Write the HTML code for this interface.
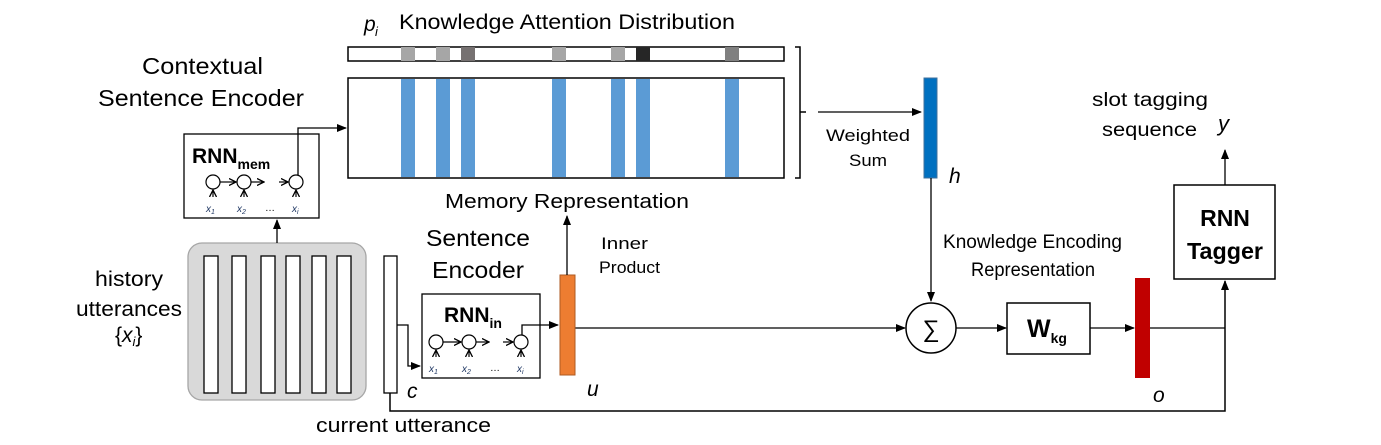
<!DOCTYPE html>
<html><head><meta charset="utf-8"><style>
html,body{margin:0;padding:0;background:#fff;}
svg{display:block;font-family:"Liberation Sans",sans-serif;}
</style></head><body>
<svg width="1381" height="445" viewBox="0 0 1381 445" xmlns="http://www.w3.org/2000/svg">
<defs>
<marker id="a" markerWidth="10" markerHeight="10" refX="9" refY="5" orient="auto" markerUnits="userSpaceOnUse"><path d="M0,1 L10,5 L0,9 z" fill="#000"/></marker>
<marker id="s" markerWidth="8" markerHeight="8" refX="7" refY="4" orient="auto" markerUnits="userSpaceOnUse"><path d="M0,0.5 L7,4 L0,7.5" fill="none" stroke="#000" stroke-width="1.3"/></marker>
</defs>
<g fill="#000">
<text x="364" y="31" font-size="21" font-style="italic">p</text><text x="375" y="36" font-size="13" font-style="italic">i</text>
<text x="399" y="29" font-size="21" textLength="336" lengthAdjust="spacingAndGlyphs">Knowledge Attention Distribution</text>
<text x="142" y="74" font-size="23" textLength="121" lengthAdjust="spacingAndGlyphs">Contextual</text>
<text x="98" y="106" font-size="23" textLength="206" lengthAdjust="spacingAndGlyphs">Sentence Encoder</text>
<text x="359" y="136" font-size="22" font-style="italic">m</text><text x="377" y="141" font-size="13" font-style="italic">i</text>
<text x="445" y="208" font-size="20" textLength="244" lengthAdjust="spacingAndGlyphs">Memory Representation</text>
<text x="426" y="246" font-size="23" textLength="104" lengthAdjust="spacingAndGlyphs">Sentence</text>
<text x="432" y="278" font-size="23" textLength="92" lengthAdjust="spacingAndGlyphs">Encoder</text>
<text x="601" y="249" font-size="17" textLength="47" lengthAdjust="spacingAndGlyphs">Inner</text>
<text x="599" y="273" font-size="17" textLength="61" lengthAdjust="spacingAndGlyphs">Product</text>
<text x="826" y="141" font-size="17" textLength="84" lengthAdjust="spacingAndGlyphs">Weighted</text>
<text x="849" y="166" font-size="17" textLength="38" lengthAdjust="spacingAndGlyphs">Sum</text>
<text x="949" y="183" font-size="21" font-style="italic">h</text>
<text x="1092" y="106" font-size="19" textLength="116" lengthAdjust="spacingAndGlyphs">slot tagging</text>
<text x="1102" y="136" font-size="19" textLength="95" lengthAdjust="spacingAndGlyphs">sequence</text>
<text x="1218" y="131" font-size="22" font-style="italic">y</text>
<text x="943" y="248" font-size="19" textLength="179" lengthAdjust="spacingAndGlyphs">Knowledge Encoding</text>
<text x="971" y="276" font-size="19" textLength="124" lengthAdjust="spacingAndGlyphs">Representation</text>
<text x="1153" y="402" font-size="21" font-style="italic">o</text>
<text x="587" y="396" font-size="21" font-style="italic">u</text>
<text x="407" y="398" font-size="21" font-style="italic">c</text>
<text x="316" y="432" font-size="20" textLength="175" lengthAdjust="spacingAndGlyphs">current utterance</text>
<text x="95" y="286" font-size="21" textLength="68" lengthAdjust="spacingAndGlyphs">history</text>
<text x="76" y="316" font-size="21" textLength="106" lengthAdjust="spacingAndGlyphs">utterances</text>
<text x="115" y="342" font-size="21">{<tspan font-style="italic">x</tspan><tspan font-size="13" dy="4" font-style="italic">i</tspan><tspan dy="-4">}</tspan></text>
</g>
<rect x="348" y="47" width="436" height="14" fill="#fff" stroke="#000" stroke-width="1.5"/>
<rect x="401" y="47" width="14" height="14" fill="#a6a6a6"/>
<rect x="436" y="47" width="14" height="14" fill="#a6a6a6"/>
<rect x="461" y="47" width="14" height="14" fill="#767171"/>
<rect x="552" y="47" width="14" height="14" fill="#a6a6a6"/>
<rect x="611" y="47" width="14" height="14" fill="#a6a6a6"/>
<rect x="636" y="47" width="14" height="14" fill="#262626"/>
<rect x="725" y="47" width="14" height="14" fill="#808080"/>
<rect x="348" y="78" width="436" height="100" fill="#fff" stroke="#000" stroke-width="1.5"/>
<g fill="#5b9bd5">
<rect x="401" y="79" width="14" height="98"/><rect x="436" y="79" width="14" height="98"/><rect x="461" y="79" width="14" height="98"/>
<rect x="552" y="79" width="14" height="98"/><rect x="611" y="79" width="14" height="98"/><rect x="636" y="79" width="14" height="98"/><rect x="725" y="79" width="14" height="98"/>
</g>
<path d="M795,47 H800 V178 H795 M800,112 H806" fill="none" stroke="#000" stroke-width="1.5"/>
<line x1="818" y1="112" x2="921" y2="112" stroke="#000" stroke-width="1.3" marker-end="url(#a)"/>
<rect x="924" y="78" width="13" height="100" fill="#0070c0" stroke="#41719c"/>
<line x1="931" y1="178" x2="931" y2="301" stroke="#000" stroke-width="1.3" marker-end="url(#a)"/>
<circle cx="931" cy="328" r="25" fill="#fff" stroke="#000" stroke-width="1.5"/>
<text x="931" y="337" font-size="24" text-anchor="middle">∑</text>
<line x1="575" y1="328" x2="905" y2="328" stroke="#000" stroke-width="1.3" marker-end="url(#a)"/>
<line x1="956" y1="328" x2="1006" y2="328" stroke="#000" stroke-width="1.3" marker-end="url(#a)"/>
<rect x="1007" y="303" width="83" height="51" fill="#fff" stroke="#000" stroke-width="1.5"/>
<text x="1027" y="337" font-size="25" font-weight="bold">W<tspan font-size="14" dy="6">kg</tspan></text>
<line x1="1090" y1="328" x2="1134" y2="328" stroke="#000" stroke-width="1.3" marker-end="url(#a)"/>
<rect x="1135" y="278" width="15" height="100" fill="#c00000"/>
<path d="M1150,328 H1225" fill="none" stroke="#000" stroke-width="1.3"/>
<rect x="1174" y="185" width="101" height="94" fill="#fff" stroke="#000" stroke-width="1.5"/>
<text x="1225" y="226" font-size="23" font-weight="bold" text-anchor="middle">RNN</text>
<text x="1225" y="259" font-size="23" font-weight="bold" text-anchor="middle" textLength="76" lengthAdjust="spacingAndGlyphs">Tagger</text>
<line x1="1225" y1="185" x2="1225" y2="150" stroke="#000" stroke-width="1.3" marker-end="url(#a)"/>
<path d="M390,393 V411 H1225 V281" fill="none" stroke="#000" stroke-width="1.5" marker-end="url(#a)"/>
<rect x="188" y="243" width="178" height="157" rx="14" fill="#d9d9d9" stroke="#a6a6a6" stroke-width="1.3"/>
<g fill="#fff" stroke="#000" stroke-width="1.3">
<rect x="204" y="256" width="14" height="137"/><rect x="232" y="256" width="14" height="137"/><rect x="261" y="256" width="14" height="137"/>
<rect x="286" y="256" width="14" height="137"/><rect x="312" y="256" width="14" height="137"/><rect x="337" y="256" width="14" height="137"/>
<rect x="384" y="256" width="13" height="137"/>
</g>
<line x1="277" y1="243" x2="277" y2="220" stroke="#000" stroke-width="1.3" marker-end="url(#a)"/>
<rect x="184" y="134" width="135" height="84" fill="#fff" stroke="#000" stroke-width="1.3"/>
<text x="192" y="163" font-size="21" font-weight="bold">RNN<tspan font-size="14" dy="6">mem</tspan></text>
<g fill="#fff" stroke="#000" stroke-width="1.2">
<circle cx="213" cy="182" r="7"/><circle cx="244" cy="182" r="7"/><circle cx="296" cy="182" r="7"/>
</g>
<g stroke="#000" stroke-width="1.2" fill="none">
<line x1="220" y1="182" x2="236" y2="182" marker-end="url(#s)"/>
<line x1="251" y1="182" x2="264" y2="182" marker-end="url(#s)"/>
<line x1="279" y1="182" x2="288" y2="182" marker-end="url(#s)"/>
<line x1="213" y1="197" x2="213" y2="190" marker-end="url(#s)"/>
<line x1="244" y1="197" x2="244" y2="190" marker-end="url(#s)"/>
<line x1="296" y1="197" x2="296" y2="190" marker-end="url(#s)"/>
</g>
<g font-size="10" font-style="italic" fill="#203864">
<text x="206" y="212">x<tspan font-size="7" dy="2">1</tspan></text>
<text x="237" y="212">x<tspan font-size="7" dy="2">2</tspan></text>
<text x="265" y="211" font-style="normal" fill="#000">…</text>
<text x="292" y="212">x<tspan font-size="7" dy="2">i</tspan></text>
</g>
<path d="M298,175 V128 H346" fill="none" stroke="#000" stroke-width="1.3" marker-end="url(#a)"/>
<rect x="422" y="294" width="118" height="84" fill="#fff" stroke="#000" stroke-width="1.3"/>
<text x="444" y="322" font-size="21" font-weight="bold">RNN<tspan font-size="14" dy="6">in</tspan></text>
<g fill="#fff" stroke="#000" stroke-width="1.2">
<circle cx="436" cy="342" r="7"/><circle cx="469" cy="342" r="7"/><circle cx="521" cy="342" r="7"/>
</g>
<g stroke="#000" stroke-width="1.2" fill="none">
<line x1="443" y1="342" x2="461" y2="342" marker-end="url(#s)"/>
<line x1="476" y1="342" x2="489" y2="342" marker-end="url(#s)"/>
<line x1="503" y1="342" x2="513" y2="342" marker-end="url(#s)"/>
<line x1="436" y1="357" x2="436" y2="350" marker-end="url(#s)"/>
<line x1="469" y1="357" x2="469" y2="350" marker-end="url(#s)"/>
<line x1="521" y1="357" x2="521" y2="350" marker-end="url(#s)"/>
</g>
<g font-size="10" font-style="italic" fill="#203864">
<text x="429" y="372">x<tspan font-size="7" dy="2">1</tspan></text>
<text x="462" y="372">x<tspan font-size="7" dy="2">2</tspan></text>
<text x="490" y="371" font-style="normal" fill="#000">…</text>
<text x="517" y="372">x<tspan font-size="7" dy="2">i</tspan></text>
</g>
<path d="M522,335 V325 H558" fill="none" stroke="#000" stroke-width="1.3" marker-end="url(#a)"/>
<path d="M397,325 H408 V366 H420" fill="none" stroke="#000" stroke-width="1.3" marker-end="url(#a)"/>
<rect x="560" y="275" width="15" height="100" fill="#ed7d31" stroke="#ae5a21"/>
<line x1="567" y1="275" x2="567" y2="216" stroke="#000" stroke-width="1.3" marker-end="url(#a)"/>
</svg>
</body></html>
